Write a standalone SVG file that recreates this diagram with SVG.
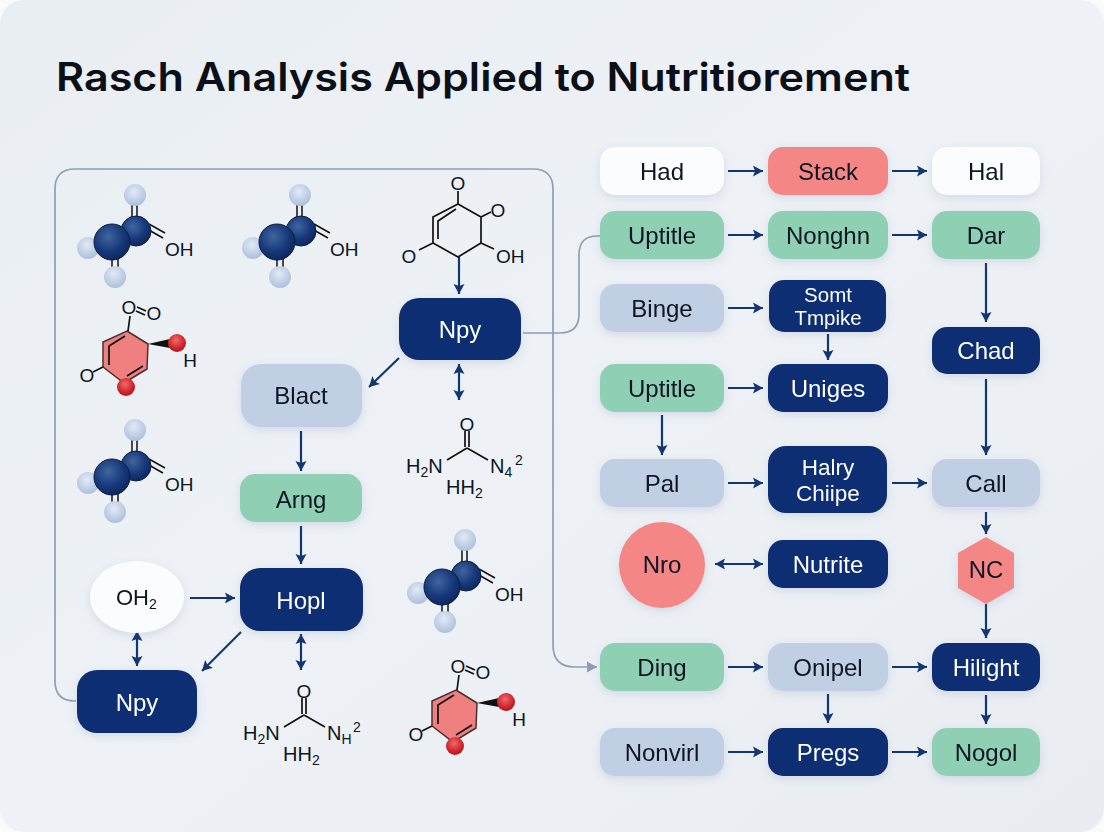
<svg xmlns="http://www.w3.org/2000/svg" width="1104" height="832" viewBox="0 0 1104 832">
<style>
text{font-family:"Liberation Sans",Arial,sans-serif;fill:#0b1524}
.t{font-size:24px;text-anchor:middle}
.w{fill:#fff}
.t2{font-size:20.5px}
.t3{font-size:22.5px}
.s{font-size:19px}
.sc{font-size:19px;text-anchor:middle}
.u{font-size:20px}
.m{font-size:19px}
.b{fill:#0a2f73}.g{fill:#8fd0b5}.l{fill:#c1cfe5}.r{fill:#f58686}.h{fill:#fbfcfe}
.c line{stroke:#123573;stroke-width:2.2;fill:none}
.a{marker-end:url(#ah)}
.d{marker-start:url(#as);marker-end:url(#ah)}
.fr{fill:none;stroke:#8f9dbb;stroke-width:1.7}
.bd{stroke:#111;stroke-width:1.7;fill:none}
</style>
<defs>
<linearGradient id="bg" x1="0" y1="0" x2="1" y2="1"><stop offset="0" stop-color="#e9eef3"/><stop offset=".5" stop-color="#eef2f6"/><stop offset="1" stop-color="#e9edf2"/></linearGradient>
<radialGradient id="bl" cx=".4" cy=".35" r=".7"><stop offset="0" stop-color="#41659f"/><stop offset=".6" stop-color="#16387a"/><stop offset="1" stop-color="#0c2558"/></radialGradient>
<radialGradient id="lt" cx=".45" cy=".35" r=".7"><stop offset="0" stop-color="#e2eaf5"/><stop offset="1" stop-color="#a8bcdc"/></radialGradient>
<radialGradient id="rd" cx=".45" cy=".35" r=".7"><stop offset="0" stop-color="#ef6a6a"/><stop offset=".7" stop-color="#cc1f26"/><stop offset="1" stop-color="#a81a20"/></radialGradient>
<filter id="sh" x="-20%" y="-20%" width="140%" height="150%"><feDropShadow dx="0" dy="3" stdDeviation="4" flood-color="#5a6f99" flood-opacity=".18"/></filter>
<marker id="ah" markerUnits="userSpaceOnUse" markerWidth="14" markerHeight="14" refX="11" refY="7" orient="auto"><path d="M1 1.5L11 7L1 12.5L3 7Z" fill="#123573"/></marker>
<marker id="as" markerUnits="userSpaceOnUse" markerWidth="14" markerHeight="14" refX="3" refY="7" orient="auto"><path d="M13 1.5L3 7L13 12.5L11 7Z" fill="#123573"/></marker>
<marker id="ag" markerUnits="userSpaceOnUse" markerWidth="14" markerHeight="14" refX="11" refY="7" orient="auto"><path d="M1 1.5L11 7L1 12.5Z" fill="#8f9dbb"/></marker>
<g id="ball">
<path d="M132 203V222M137 203V222M112 258V272M118 258V272M149 224L165 233M147 229L163 238" stroke="#111" stroke-width="1.5" fill="none"/>
<circle cx="135" cy="195" r="11" fill="url(#lt)"/>
<circle cx="88" cy="248" r="11" fill="url(#lt)"/>
<circle cx="115" cy="277" r="11" fill="url(#lt)"/>
<circle cx="136" cy="231" r="15" fill="url(#bl)" stroke="#0a1c44"/>
<circle cx="112" cy="242" r="18" fill="url(#bl)" stroke="#0a1c44"/>
<text x="165" y="256" class="m">OH</text>
</g>
<g id="ring">
<path d="M127 331L148 344L147 369L124 383L103 367L103 342Z" fill="#f08080" stroke="#4a3030" stroke-width="1.5"/>
<path d="M109 365V346L125 336M143 366L127 376M128 331L130 316M103 367L93 372M137 307L146 311M136 311L145 315" class="bd" stroke-width="1.4"/>
<path d="M148 344L170 339V348Z" fill="#111"/>
<circle cx="177" cy="343" r="9" fill="url(#rd)"/>
<circle cx="126" cy="387" r="9" fill="url(#rd)"/>
<text x="129" y="314" class="sc">O</text>
<text x="154" y="320" class="sc">O</text>
<text x="87" y="382" class="sc">O</text>
<text x="190" y="367" class="sc">H</text>
</g>
<g id="urea">
<path d="M465 431V447M469 431V447M467 448L447 460M467 448L488 460" class="bd" stroke-width="1.5"/>
<text x="467" y="431" class="sc">O</text>
<text x="406" y="473" class="u">H<tspan font-size="14" dy="4">2</tspan><tspan dy="-4">N</tspan></text>
<text x="446" y="494" class="u">HH<tspan font-size="14" dy="4">2</tspan></text>
</g>
</defs>
<rect width="1104" height="832" fill="#f9fafc"/>
<rect width="1104" height="832" rx="24" fill="url(#bg)"/>
<text x="56" y="91" style="font-family:Inter,'Liberation Sans',sans-serif;font-size:39px;font-weight:600;fill:#0b0f17" textLength="854" lengthAdjust="spacingAndGlyphs">Rasch Analysis Applied to Nutritiorement</text>

<g id="connectors" class="c">
<path class="fr" d="M76 701H75Q55 701 55 681V189Q55 169 75 169H533Q553 169 553 189V645Q553 667 575 667H597" marker-end="url(#ag)"/>
<path class="fr" d="M523 333H560Q579 333 579 314V255Q579 236 597 236H603"/>
<line class="a" x1="728" y1="171" x2="763" y2="171"/><line class="a" x1="892" y1="171" x2="927" y2="171"/>
<line class="a" x1="728" y1="235" x2="763" y2="235"/><line class="a" x1="892" y1="235" x2="927" y2="235"/>
<line class="a" x1="728" y1="308" x2="763" y2="308"/><line class="a" x1="728" y1="388" x2="763" y2="388"/>
<line class="a" x1="728" y1="483" x2="763" y2="483"/><line class="a" x1="892" y1="483" x2="927" y2="483"/>
<line class="d" x1="715" y1="564" x2="763" y2="564"/>
<line class="a" x1="728" y1="667" x2="763" y2="667"/><line class="a" x1="892" y1="667" x2="927" y2="667"/>
<line class="a" x1="728" y1="752" x2="763" y2="752"/><line class="a" x1="892" y1="752" x2="927" y2="752"/>
<line class="a" x1="986" y1="263" x2="986" y2="322"/><line class="a" x1="828" y1="334" x2="828" y2="360"/>
<line class="a" x1="986" y1="379" x2="986" y2="455"/><line class="a" x1="662" y1="415" x2="662" y2="455"/>
<line class="a" x1="986" y1="512" x2="986" y2="534"/><line class="a" x1="986" y1="604" x2="986" y2="638"/>
<line class="a" x1="828" y1="694" x2="828" y2="723"/><line class="a" x1="986" y1="695" x2="986" y2="724"/>
<line class="a" x1="459" y1="257" x2="459" y2="294"/>
<line class="a" x1="399" y1="358" x2="369" y2="387"/>
<line class="d" x1="459" y1="364" x2="459" y2="400"/>
<line class="a" x1="301" y1="431" x2="301" y2="471"/><line class="a" x1="301" y1="526" x2="301" y2="564"/>
<line class="a" x1="190" y1="598" x2="235" y2="598"/>
<line class="d" x1="301" y1="634" x2="301" y2="670"/><line class="d" x1="137" y1="631" x2="137" y2="666"/>
<line class="a" x1="241" y1="632" x2="202" y2="671"/>
</g>

<g id="mol-a1"><use href="#ball"/></g>
<g id="mol-a2"><use href="#ball" x="165"/></g>
<g id="mol-a3"><use href="#ball" y="235"/></g>
<g id="mol-a4"><use href="#ball" x="330" y="345"/></g>
<g id="mol-r1"><use href="#ring"/></g>
<g id="mol-r2"><use href="#ring" x="329" y="359"/></g>
<g id="mol-q">
<path d="M458 204L481 217V243L458 257L433 243V217ZM438 239V221L456 209M458 204V191M481 217L491 212M481 243L494 249M433 243L419 250" class="bd"/>
<text x="458" y="190" class="sc">O</text><text x="498" y="217" class="sc">O</text><text x="409" y="263" class="sc">O</text><text x="496" y="263" class="s">OH</text>
</g>
<g id="mol-u1"><use href="#urea"/><text x="490" y="473" class="u">N<tspan font-size="14" dy="4">4</tspan></text><text x="515" y="465" font-size="14">2</text></g>
<g id="mol-u2"><use href="#urea" x="-163" y="267"/><text x="327" y="740" class="u">N<tspan font-size="14" dy="4">H</tspan></text><text x="353" y="732" font-size="14">2</text></g>

<g id="n-npy1" filter="url(#sh)"><rect class="b" x="399" y="298" width="122" height="62" rx="20"/><text class="t w" x="460" y="338">Npy</text></g>
<g id="n-blact" filter="url(#sh)"><rect class="l" x="241" y="364" width="121" height="63" rx="20"/><text class="t" x="301" y="404">Blact</text></g>
<g id="n-arng" filter="url(#sh)"><rect class="g" x="240" y="474" width="122" height="48" rx="15"/><text class="t" x="301" y="508">Arng</text></g>
<g id="n-hopl" filter="url(#sh)"><rect class="b" x="240" y="568" width="123" height="63" rx="20"/><text class="t w" x="301" y="609">Hopl</text></g>
<g id="n-npy2" filter="url(#sh)"><rect class="b" x="77" y="670" width="120" height="63" rx="20"/><text class="t w" x="137" y="711">Npy</text></g>
<g id="n-oh2" filter="url(#sh)"><ellipse class="h" cx="137" cy="597" rx="47" ry="36"/><text x="116" y="605" style="font-size:22px">OH<tspan font-size="14" dy="4">2</tspan></text></g>

<g id="n-had" filter="url(#sh)"><rect class="h" x="600" y="147" width="124" height="48" rx="15"/><text class="t" x="662" y="180">Had</text></g>
<g id="n-stack" filter="url(#sh)"><rect class="r" x="768" y="147" width="120" height="48" rx="15"/><text class="t" x="828" y="180">Stack</text></g>
<g id="n-hal" filter="url(#sh)"><rect class="h" x="932" y="147" width="108" height="48" rx="15"/><text class="t" x="986" y="180">Hal</text></g>
<g id="n-uptitle1" filter="url(#sh)"><rect class="g" x="600" y="211" width="124" height="48" rx="15"/><text class="t" x="662" y="244">Uptitle</text></g>
<g id="n-nonghn" filter="url(#sh)"><rect class="g" x="768" y="211" width="120" height="48" rx="15"/><text class="t" x="828" y="244">Nonghn</text></g>
<g id="n-dar" filter="url(#sh)"><rect class="g" x="932" y="211" width="108" height="48" rx="15"/><text class="t" x="986" y="244">Dar</text></g>
<g id="n-binge" filter="url(#sh)"><rect class="l" x="600" y="284" width="124" height="48" rx="15"/><text class="t" x="662" y="317">Binge</text></g>
<g id="n-somt" filter="url(#sh)"><rect class="b" x="769" y="280" width="117" height="52" rx="15"/><text class="t t2 w" x="828" y="302">Somt</text><text class="t t2 w" x="828" y="325">Tmpike</text></g>
<g id="n-chad" filter="url(#sh)"><rect class="b" x="932" y="327" width="108" height="47" rx="15"/><text class="t w" x="986" y="359">Chad</text></g>
<g id="n-uptitle2" filter="url(#sh)"><rect class="g" x="600" y="364" width="124" height="48" rx="15"/><text class="t" x="662" y="397">Uptitle</text></g>
<g id="n-uniges" filter="url(#sh)"><rect class="b" x="768" y="364" width="120" height="48" rx="15"/><text class="t w" x="828" y="397">Uniges</text></g>
<g id="n-pal" filter="url(#sh)"><rect class="l" x="600" y="459" width="124" height="48" rx="15"/><text class="t" x="662" y="492">Pal</text></g>
<g id="n-halry" filter="url(#sh)"><rect class="b" x="768" y="446" width="119" height="67" rx="18"/><text class="t t3 w" x="828" y="475">Halry</text><text class="t t3 w" x="828" y="501">Chiipe</text></g>
<g id="n-call" filter="url(#sh)"><rect class="l" x="932" y="459" width="108" height="48" rx="15"/><text class="t" x="986" y="492">Call</text></g>
<g id="n-nro" filter="url(#sh)"><circle class="r" cx="662" cy="565" r="43"/><text class="t" x="662" y="573">Nro</text></g>
<g id="n-nutrite" filter="url(#sh)"><rect class="b" x="768" y="540" width="120" height="48" rx="15"/><text class="t w" x="828" y="573">Nutrite</text></g>
<g id="n-nc" filter="url(#sh)"><path class="r" d="M986 537L1014 553V588L986 604L958 588V553Z"/><text class="t" x="986" y="578">NC</text></g>
<g id="n-ding" filter="url(#sh)"><rect class="g" x="600" y="643" width="124" height="48" rx="15"/><text class="t" x="662" y="676">Ding</text></g>
<g id="n-onipel" filter="url(#sh)"><rect class="l" x="768" y="643" width="120" height="48" rx="15"/><text class="t" x="828" y="676">Onipel</text></g>
<g id="n-hilight" filter="url(#sh)"><rect class="b" x="932" y="643" width="108" height="48" rx="15"/><text class="t w" x="986" y="676">Hilight</text></g>
<g id="n-nonviril" filter="url(#sh)"><rect class="l" x="600" y="728" width="124" height="48" rx="15"/><text class="t" x="662" y="761">Nonvirl</text></g>
<g id="n-pregs" filter="url(#sh)"><rect class="b" x="768" y="728" width="120" height="48" rx="15"/><text class="t w" x="828" y="761">Pregs</text></g>
<g id="n-nogol" filter="url(#sh)"><rect class="g" x="932" y="728" width="108" height="48" rx="15"/><text class="t" x="986" y="761">Nogol</text></g>
</svg>
